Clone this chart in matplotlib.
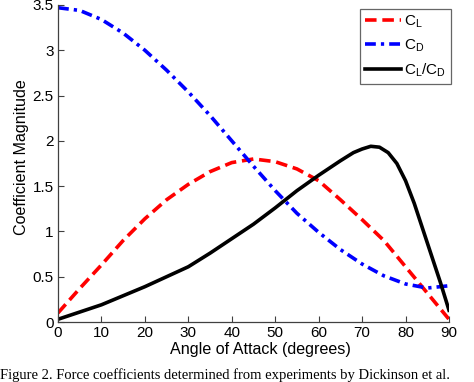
import matplotlib
matplotlib.use("Agg")
import matplotlib.pyplot as plt

plt.rcParams['font.family'] = ['Liberation Sans', 'DejaVu Sans']
plt.rcParams['mathtext.fontset'] = 'custom'
plt.rcParams['mathtext.rm'] = 'Liberation Sans'
plt.rcParams['mathtext.it'] = 'Liberation Sans'

# Data
angle = [0, 5, 10, 15, 20, 25, 30, 35, 40, 45, 50, 55, 60, 65, 70, 75, 80, 85, 90]
cl = [0.10, 0.37, 0.63, 0.90, 1.14, 1.35, 1.52, 1.66, 1.76, 1.80, 1.77, 1.69, 1.56, 1.35, 1.13, 0.90, 0.61, 0.32, 0.03]
cd = [3.47, 3.44, 3.34, 3.19, 3.00, 2.78, 2.54, 2.28, 2.00, 1.72, 1.45, 1.20, 0.99, 0.80, 0.64, 0.51, 0.42, 0.375, 0.40]
angle_r = [0, 5, 10, 15, 20, 25, 30, 35, 40, 45, 50, 55, 60, 65, 68, 70, 72, 74, 76, 78, 80, 82, 84, 86, 88, 90]
ratio = [0.03, 0.11, 0.19, 0.29, 0.39, 0.50, 0.61, 0.76, 0.92, 1.08, 1.26, 1.45, 1.62, 1.78, 1.87, 1.91, 1.94, 1.93, 1.87, 1.75, 1.56, 1.31, 1.02, 0.73, 0.44, 0.13]

xticks = [0, 10, 20, 30, 40, 50, 60, 70, 80, 90]
yticks = [0, 0.5, 1, 1.5, 2, 2.5, 3, 3.5]
yticklabels = ['0', '0.5', '1', '1.5', '2', '2.5', '3', '3.5']

fig = plt.figure(figsize=(4.74, 3.82), dpi=100)
ax = fig.add_axes([58/474, 1-322/382, (449-58)/474, (322-5)/382])

ax.plot(angle, cl, color='red', lw=2.6, dashes=(3.2, 1.6), label=r'$\mathregular{C_L}$')
ax.plot(angle, cd, color='blue', lw=2.6, dashes=(3.0, 1.4, 0.9, 1.4), label=r'$\mathregular{C_D}$')
ax.plot(angle_r, ratio, color='black', lw=2.6, label=r'$\mathregular{C_L/C_D}$')

ax.set_xlim(0, 90)
ax.set_ylim(0, 3.5)
ax.set_xticks(xticks)
ax.set_yticks(yticks)
ax.set_yticklabels(yticklabels)
for s in ['top', 'right']:
    ax.spines[s].set_visible(False)
for s in ['left', 'bottom']:
    ax.spines[s].set_color('#404040')
    ax.spines[s].set_linewidth(0.9)
ax.tick_params(direction='in', length=4, width=0.8, color='#404040', labelsize=11, pad=3)
ax.set_xlabel('Angle of Attack (degrees)', fontsize=11.6, va='top')
ax.set_ylabel('Coefficient Magnitude', fontsize=11.6)
ax.xaxis.set_label_coords((260-58)/391, (322-342)/317)
ax.yaxis.set_label_coords((29-58)/391, (322-157)/317)

leg = ax.legend(loc='upper left', bbox_to_anchor=(360/474, 1-9/382), bbox_transform=fig.transFigure,
                fontsize=11, handlelength=2.4, handletextpad=0.2, labelspacing=0.5,
                borderpad=0.3, frameon=True, fancybox=False, borderaxespad=0)
leg.get_frame().set_edgecolor('#404040')
leg.get_frame().set_linewidth(0.9)

fig.text(0.0, 1-379/382, 'Figure 2. Force coefficients determined from experiments by Dickinson et al.',
         family='Liberation Serif', fontsize=10.5, va='baseline', ha='left')

fig.savefig('out.png', dpi=100)
